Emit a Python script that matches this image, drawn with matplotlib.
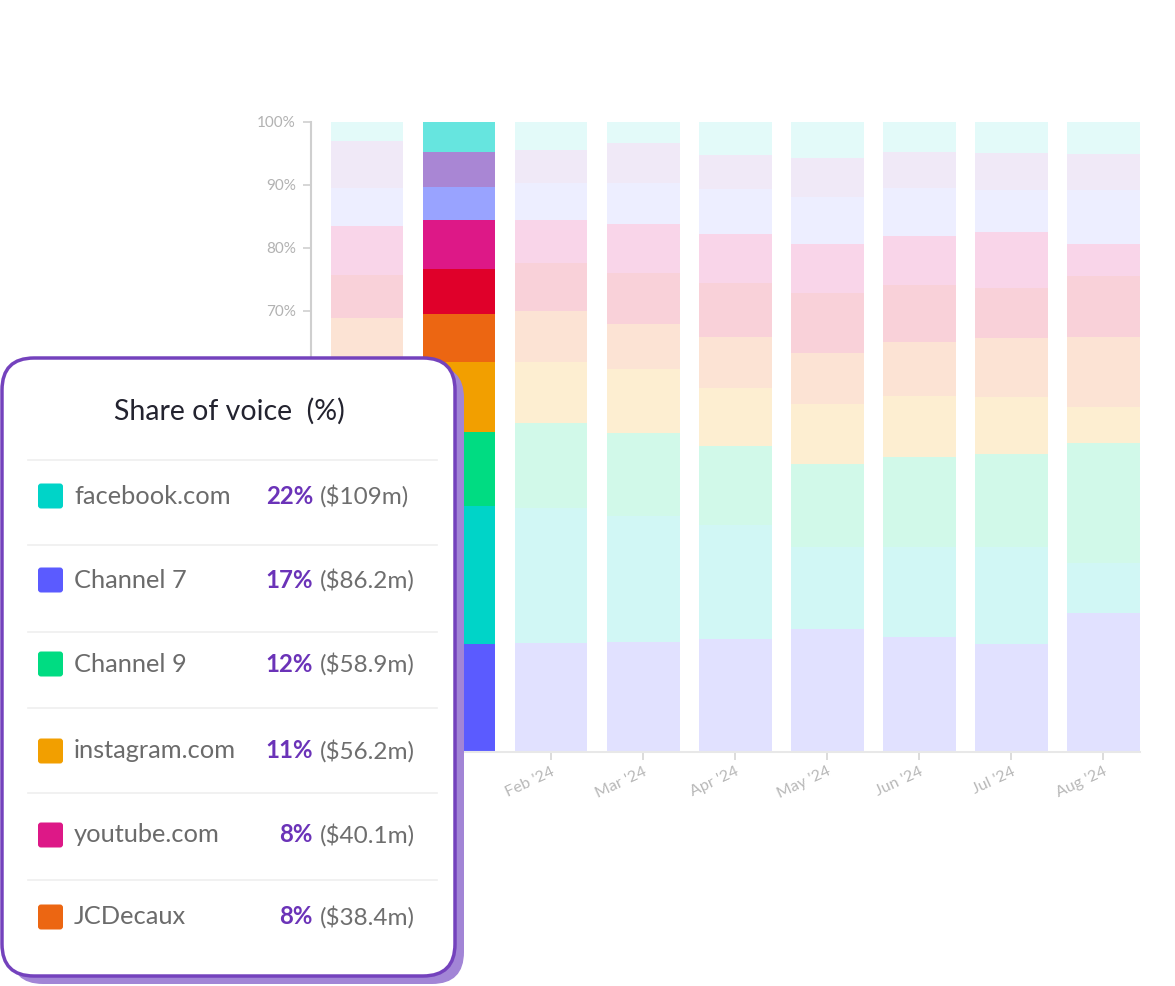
import matplotlib
matplotlib.use('Agg')
import matplotlib.pyplot as plt
from matplotlib.patches import FancyBboxPatch
from matplotlib.colors import to_rgb
import matplotlib.ticker as mticker
import numpy as np

plt.rcParams['font.family'] = ['Lato', 'DejaVu Sans']

# months on the x axis, Jan '24 is the highlighted one
months = ["Dec '23", "Jan '24", "Feb '24", "Mar '24", "Apr '24",
          "May '24", "Jun '24", "Jul '24", "Aug '24"]
highlight = 1

# share of voice (%) per month, stacked bottom -> top
channel7 = [17.0, 17.1, 17.3, 17.5, 17.9, 19.5, 18.3, 17.1, 22.1]
facebook = [22.0, 22.0, 21.4, 20.0, 18.1, 13.1, 14.3, 15.5, 7.9]
channel9 = [12.0, 11.7, 13.5, 13.1, 12.5, 13.1, 14.2, 14.7, 19.0]
instagram = [10.0, 11.1, 9.7, 10.2, 9.3, 9.5, 9.7, 9.0, 5.8]
jcdecaux = [7.9, 7.7, 8.1, 7.1, 8.1, 8.1, 8.6, 9.4, 11.1]
other_red = [6.8, 7.0, 7.6, 8.2, 8.6, 9.6, 9.0, 8.0, 9.7]
youtube = [7.8, 7.8, 6.8, 7.7, 7.7, 7.7, 7.8, 8.8, 5.0]
other_blue = [6.0, 5.3, 5.9, 6.5, 7.2, 7.5, 7.6, 6.7, 8.6]
other_purple = [7.4, 5.5, 5.3, 6.4, 5.4, 6.2, 5.8, 5.9, 5.7]
other_teal = [3.1, 4.8, 4.4, 3.3, 5.2, 5.7, 4.7, 4.9, 5.1]

stack = [channel7, facebook, channel9, instagram, jcdecaux,
         other_red, youtube, other_blue, other_purple, other_teal]
stack_colors = ['#5B5BFF', '#00D4C8', '#00DC82', '#F29F00', '#EC6612',
                '#E0002A', '#DD1887', '#99A3FF', '#A986D4', '#66E5DF']

# legend panel rows
leg_names = ['facebook.com', 'Channel 7', 'Channel 9', 'instagram.com', 'youtube.com', 'JCDecaux']
leg_pct = ['22%', '17%', '12%', '11%', '8%', '8%']
leg_spend = ['($109m)', '($86.2m)', '($58.9m)', '($56.2m)', '($40.1m)', '($38.4m)']
leg_colors = ['#00D4C8', '#5B5BFF', '#00DC82', '#F29F00', '#DD1887', '#EC6612']


def faded(c, a=0.18):
    r = np.array(to_rgb(c))
    return tuple(1 - a * (1 - r))


fig = plt.figure(figsize=(11.75, 9.86), dpi=100)
ax = fig.add_axes([0.2647, 0.2373, 0.7055, 0.639])

x = np.arange(len(months))
bottom = np.zeros(len(months))
for vals, col in zip(stack, stack_colors):
    vals = np.array(vals)
    cols = [col if i == highlight else faded(col) for i in range(len(months))]
    ax.bar(x, vals, bottom=bottom, width=0.79, color=cols, linewidth=0)
    bottom += vals

ax.set_xlim(-0.61, 8.40)
ax.set_ylim(0, 100)
ax.yaxis.set_major_locator(mticker.MultipleLocator(10))
# lower labels sit under the legend card anyway
ax.yaxis.set_major_formatter(mticker.FuncFormatter(lambda v, p: '%d%%' % v if v >= 70 else ''))
ax.set_xticks(x)
ax.set_xticklabels(months, rotation=25, ha='right', rotation_mode='anchor')

for s in ['top', 'right']:
    ax.spines[s].set_visible(False)
ax.spines['left'].set_color('#CFCFCF')
ax.spines['left'].set_linewidth(1.5)
ax.spines['bottom'].set_color('#E8E8E8')
ax.spines['bottom'].set_linewidth(1.5)
ax.tick_params(axis='y', length=6, width=1.2, color='#CFCFCF', pad=5,
               labelsize=11, labelcolor='#B2B2B2')
ax.tick_params(axis='x', length=6, width=1.2, color='#D6D6D6', pad=3,
               labelsize=11.5, labelcolor='#B8B8B8')

# legend card drawn on top in pixel coordinates
ov = fig.add_axes([0, 0, 1, 1])
ov.set_xlim(0, 1175)
ov.set_ylim(986, 0)
ov.axis('off')

shadow = FancyBboxPatch((11, 366), 453, 618, boxstyle='round,pad=0,rounding_size=32',
                        facecolor='#A285D6', edgecolor='none')
ov.add_patch(shadow)
card = FancyBboxPatch((2, 358), 453, 618, boxstyle='round,pad=0,rounding_size=32',
                      facecolor='white', edgecolor='#7442BD', linewidth=2.5)
ov.add_patch(card)

ov.text(229, 411, 'Share of voice  (%)', ha='center', va='center',
        fontsize=20.5, color='#23232F')

for yl in [460, 545, 632, 708, 793, 880]:
    ov.plot([28, 437], [yl, yl], color='#EFEFEF', linewidth=1.2)

row_y = [496, 580, 664, 751, 835, 917]
for yc, nm, pc, sp, col in zip(row_y, leg_names, leg_pct, leg_spend, leg_colors):
    sq = FancyBboxPatch((38, yc - 12.5), 25, 25, boxstyle='round,pad=0,rounding_size=3',
                        facecolor=col, edgecolor='none')
    ov.add_patch(sq)
    ov.text(74, yc, nm, ha='left', va='center', fontsize=18.3, color='#6B6B6B')
    ov.text(313, yc, pc, ha='right', va='center', fontsize=17.3,
            fontweight='bold', color='#6B33B8')
    ov.text(320, yc, sp, ha='left', va='center', fontsize=17.5, color='#6E6E6E')

fig.savefig('out.png', dpi=100)
